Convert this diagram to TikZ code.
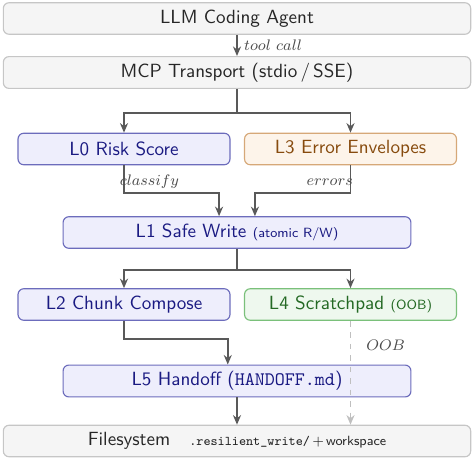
\documentclass[tikz,border=0pt]{standalone}
\usetikzlibrary{arrows.meta,positioning}
\definecolor{layerline}{RGB}{108,108,188}
\definecolor{layerfill}{RGB}{238,238,252}
\definecolor{layertext}{RGB}{26,26,130}
\definecolor{errline}{RGB}{214,168,120}
\definecolor{errfill}{RGB}{253,244,234}
\definecolor{errtext}{RGB}{135,75,14}
\definecolor{padline}{RGB}{122,192,122}
\definecolor{padfill}{RGB}{238,248,238}
\definecolor{padtext}{RGB}{36,105,36}

\begin{document}
\begin{tikzpicture}[
            x=0.0184cm, y=-0.0184cm, font=\sffamily,
            sysblock/.style={draw=gray!45, fill=gray!8, text=black!85, rounded corners=3pt, minimum width=8.6cm, minimum height=0.58cm, line width=0.6pt},
            layerblock/.style={draw=layerline, fill=layerfill, text=layertext, rounded corners=3pt, minimum height=0.58cm, line width=0.6pt},
            errblock/.style={draw=errline, fill=errfill, text=errtext, rounded corners=3pt, minimum height=0.58cm, line width=0.6pt},
            padblock/.style={draw=padline, fill=padfill, text=padtext, rounded corners=3pt, minimum height=0.58cm, line width=0.6pt},
            arrow/.style={-{Stealth[length=5pt,width=4.2pt]}, line width=0.9pt, draw=black!65},
            oobarrow/.style={-{Stealth[length=5pt,width=4.2pt]}, dashed, line width=0.9pt, draw=black!25},
            lbl/.style={font=\footnotesize, text=black!70}
        ]
        \useasboundingbox (0,0) rectangle (474,460);

        % Outer system
        \node[sysblock] (agent) at (237,18.5) {LLM Coding Agent};
        \node[sysblock] (mcp) at (237,72.5) {MCP Transport (stdio\,/\,SSE)};

        % Layers
        \node[layerblock, minimum width=3.9cm] (risk) at (124,149) {L0 Risk Score};
        \node[errblock, minimum width=3.9cm] (envelope) at (350.5,149) {L3 Error Envelopes};
        \node[layerblock, minimum width=6.4cm] (safewrite) at (237,232.5) {L1 Safe Write {\scriptsize (atomic R/W)}};
        \node[layerblock, minimum width=3.9cm] (chunk) at (124,304.5) {L2 Chunk Compose};
        \node[padblock, minimum width=3.9cm] (scratch) at (350.5,304.5) {L4 Scratchpad {\scriptsize (OOB)}};
        \node[layerblock, minimum width=6.4cm] (handoff) at (237,381) {L5 Handoff (\texttt{HANDOFF.md})};

        % Storage
        \node[sysblock] (fs) at (237,441) {Filesystem\quad{\scriptsize\texttt{.resilient\_write/}\,$+$\,workspace}};

        \coordinate (fork1) at (237,113);
        \coordinate (fork2) at (237,270);

        % Arrows
        \draw[arrow] (agent) -- node[lbl, right] {$tool\ call$} (mcp);
        \draw[arrow, -] (mcp) -- (fork1);
        \draw[arrow] (fork1) -| (risk);
        \draw[arrow] (fork1) -| (envelope);
        \draw[arrow] (risk.south) -- node[lbl, pos=0.6, right, xshift=-6pt] {$classify$} ++(0,28) -| ([xshift=-0.33cm]safewrite.north);
        \draw[arrow] (envelope.south) -- node[lbl, pos=0.6, left, xshift=5pt] {$errors$} ++(0,28) -| ([xshift=0.33cm]safewrite.north);
        \draw[arrow, -] (safewrite) -- (fork2);
        \draw[arrow] (fork2) -| (chunk);
        \draw[arrow] (fork2) -| (scratch);
        \draw[arrow] (chunk.south) -- ++(0,18) -| ([xshift=-0.17cm]handoff.north);
        \draw[arrow] (handoff) -- (fs);
        \draw[oobarrow] (scratch) -- node[lbl, pos=0.24, right, xshift=4.5pt] {$OOB$} (scratch |- fs.north);
    \end{tikzpicture}
\end{document}
